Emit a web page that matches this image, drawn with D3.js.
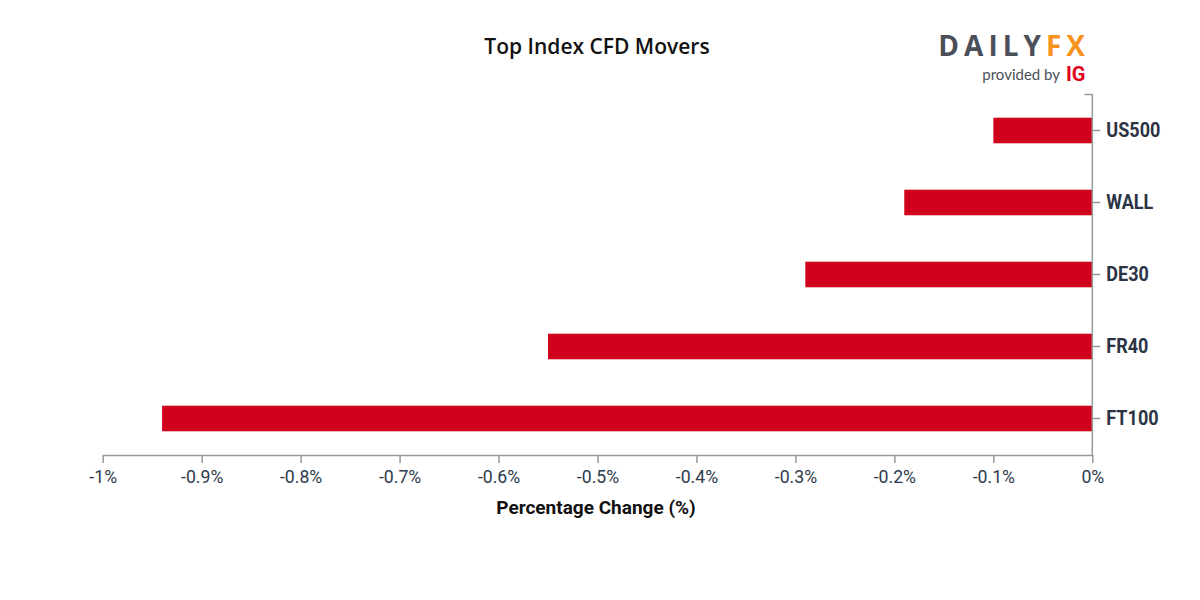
<!DOCTYPE html>
<html>
<head>
<meta charset="utf-8">
<script src="https://cdn.jsdelivr.net/npm/d3@7"></script>
<style>
  body { margin: 0; background: #fff; }
  svg { display: block; }
</style>
</head>
<body>
<div id="chart"></div>
<script>
// data
var indices = ["US500", "WALL", "DE30", "FR40", "FT100"];
var changes = [-0.10, -0.19, -0.29, -0.55, -0.94];
var tickValues = [-1, -0.9, -0.8, -0.7, -0.6, -0.5, -0.4, -0.3, -0.2, -0.1, 0];

var width = 1200, height = 600;
var plotLeft = 102.7, plotRight = 1092.3, plotTop = 94.5, plotBottom = 454.5;

var svg = d3.select("#chart")
  .append("svg")
  .attr("width", width)
  .attr("height", height);

var x = d3.scaleLinear().domain([-1, 0]).range([plotLeft, plotRight]);
var y = d3.scaleBand()
  .domain(indices)
  .range([plotTop, plotBottom])
  .paddingInner(0.645)
  .paddingOuter(0.3225);

// title
svg.append("text")
  .attr("x", 597)
  .attr("y", 54)
  .attr("text-anchor", "middle")
  .style("font-family", "'Open Sans', 'Noto Sans', sans-serif")
  .style("font-weight", 600)
  .style("font-size", "21px")
  .style("fill", "#111")
  .text("Top Index CFD Movers");

// logo
var logo = svg.append("g");
logo.append("text")
  .attr("x", 1090)
  .attr("y", 56)
  .attr("text-anchor", "end")
  .style("font-family", "'Open Sans', sans-serif")
  .style("font-weight", 700)
  .style("font-size", "28px")
  .style("letter-spacing", "5px")
  .style("fill", "#4b4f58")
  .text("DAILY")
  .append("tspan")
  .style("fill", "#f7931e")
  .text("FX");
logo.append("text")
  .attr("x", 1060)
  .attr("y", 80)
  .attr("text-anchor", "end")
  .style("font-family", "Lato, 'Open Sans', sans-serif")
  .style("font-size", "15px")
  .style("fill", "#4b4f58")
  .text("provided by");
logo.append("text")
  .attr("x", 1066)
  .attr("y", 81)
  .style("font-family", "Roboto, sans-serif")
  .style("font-weight", 700)
  .style("font-size", "20px")
  .style("fill", "#e2001a")
  .text("IG");

// bars
svg.append("g")
  .selectAll("rect")
  .data(indices)
  .enter()
  .append("rect")
  .attr("x", function (d, i) { return x(changes[i]); })
  .attr("y", function (d) { return y(d); })
  .attr("width", function (d, i) { return x(0) - x(changes[i]); })
  .attr("height", y.bandwidth())
  .style("fill", "#d0021b");

// x axis
var xAxis = svg.append("g")
  .attr("transform", "translate(0," + (plotBottom + 0.5) + ")")
  .call(d3.axisBottom(x)
    .tickValues(tickValues)
    .tickSize(8)
    .tickSizeOuter(0)
    .tickFormat(function (d) { return d3.format(".1~f")(d).replace("\u2212", "-") + "%"; }));
xAxis.select(".domain").style("stroke", "#999").style("stroke-width", 1.5);
xAxis.selectAll(".tick line").style("stroke", "#999").style("stroke-width", 1.5);
xAxis.selectAll(".tick text")
  .attr("y", 15)
  .attr("transform", "scale(0.93,1)")
  .style("font-family", "Roboto, sans-serif")
  .style("font-size", "19px")
  .style("fill", "#2d3a4b");

// y axis on the right
var yAxis = svg.append("g")
  .attr("transform", "translate(" + plotRight + ",0)")
  .call(d3.axisRight(y).tickSize(8).tickSizeOuter(0).tickPadding(6));
yAxis.select(".domain")
  .attr("d", "M-8," + plotTop + "H0V" + (plotBottom + 0.5))
  .style("stroke", "#999")
  .style("stroke-width", 1.5);
yAxis.selectAll(".tick line").style("stroke", "#999").style("stroke-width", 1.5);
yAxis.selectAll(".tick text")
  .attr("x", 14 / 0.88)
  .attr("transform", "scale(0.88,1)")
  .style("font-family", "Roboto, sans-serif")
  .style("font-weight", 700)
  .style("font-size", "20.5px")
  .style("fill", "#2b3444");

// axis title
svg.append("text")
  .attr("x", 596)
  .attr("y", 514)
  .attr("text-anchor", "middle")
  .style("font-family", "Roboto, sans-serif")
  .style("font-weight", 700)
  .style("font-size", "19px")
  .style("fill", "#111")
  .text("Percentage Change (%)");
</script>
</body>
</html>
